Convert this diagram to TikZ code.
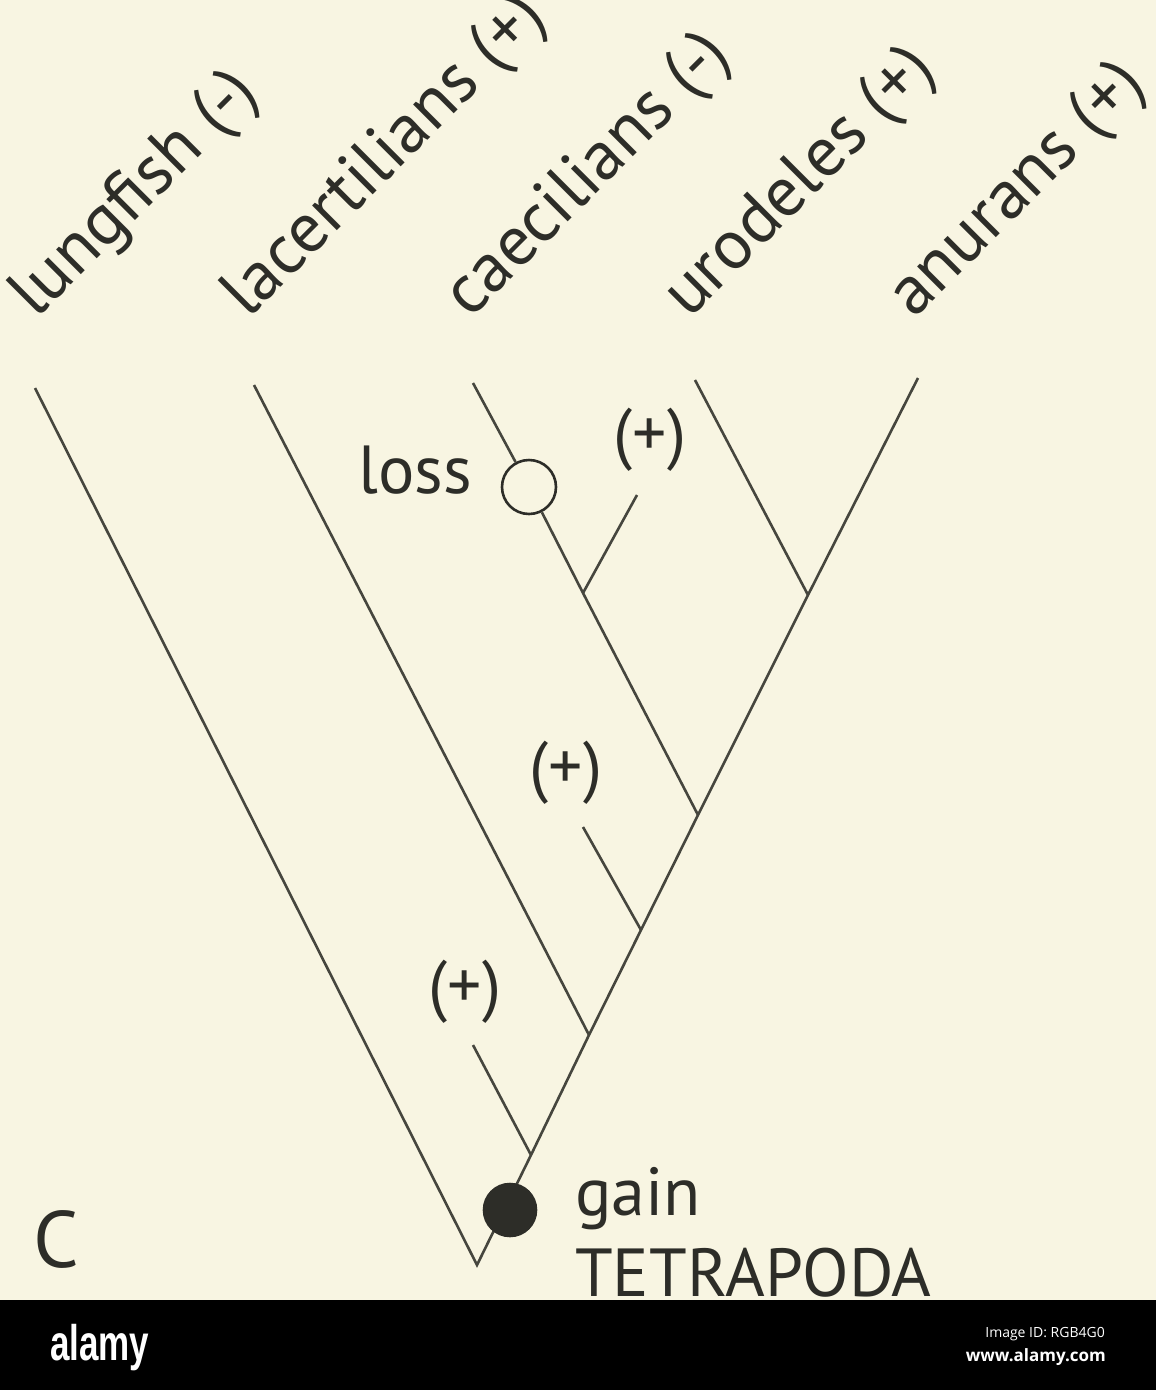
\documentclass[tikz,border=0pt]{standalone}
\usepackage{fontspec}
\setmainfont{PT Sans}
\newfontfamily\stockfont{Liberation Sans}
\newfontfamily\idfont{Open Sans}

\definecolor{paper}{RGB}{248,245,226}
\definecolor{ink}{RGB}{45,45,40}
\definecolor{inkline}{RGB}{70,70,62}
\newcommand{\taxfont}{\fontsize{70}{80}\selectfont}
\newcommand{\statefont}{\fontsize{68}{80}\selectfont}

\begin{document}
\begin{tikzpicture}[x=1pt,y=-1pt]
    \tikzstyle{branch}=[draw=inkline, line width=2.6pt];
    \tikzstyle{taxon}=[anchor=base west, rotate=45, inner sep=0pt, text=ink, font=\taxfont];
    \tikzstyle{state}=[inner sep=0pt, text=ink, font=\statefont];
    \tikzstyle{trait}=[circle, draw=ink, line width=2.6pt, minimum size=54pt, inner sep=0pt];
    \useasboundingbox (0,0) rectangle (1156,1390);
    \fill[paper] (0,0) rectangle (1156,1300);

    % taxon names
    \foreach \nm/\px/\txt in {lung/36/lungfish (-), lac/248/lacertilians (+),
        cae/470/caecilians (-), uro/689/urodeles (+), anu/914/anurans (+)} {
      \node[taxon] (lbl\nm) at (\px,320) {\txt};
    }

    % tips and forks
    \coordinate (tipLung) at (35,388);
    \coordinate (tipLac) at (254,385);
    \coordinate (tipCae) at (473,383);
    \coordinate (tipUro) at (695,380);
    \coordinate (tipAnu) at (918,378);
    \coordinate (root) at (477,1265);
    \coordinate (fork1) at (531,1155);
    \coordinate (fork2) at (589,1035);
    \coordinate (fork3) at (641,930);
    \coordinate (fork4) at (698,815);
    \coordinate (fork5) at (808,595);
    \coordinate (fork6) at (583,593);
    \coordinate (tick1) at (473,1045);
    \coordinate (tick2) at (583,827);
    \coordinate (tick3) at (637,495);

    \node[trait, fill=paper] (loss) at (529,487) {};

    \draw[branch] (tipLung) -- (root) -- (fork1) -- (fork2) -- (fork3) -- (fork4) -- (fork5) -- (tipAnu);
    \draw[branch] (tipLac) -- (fork2);
    \draw[branch] (tipUro) -- (fork5);
    \draw[branch] (tipCae) -- (loss) -- (fork6) -- (fork4);
    \foreach \i/\j in {1/1, 2/3, 3/6} {
      \draw[branch] (tick\i) -- (fork\j);
    }

    \node[trait, fill=ink, minimum size=52pt] (gain) at (510,1210) {};

    % state labels
    \node[state, anchor=base east] (lblLoss) at (472,493) {loss};
    \node[state] (plus1) at (465,992) {(+)};
    \node[state] (plus2) at (566,773) {(+)};
    \node[state] (plus3) at (650,440) {(+)};
    \node[state, anchor=base west] (lblGain) at (575,1215) {gain};
    \node[state, anchor=base west] (lblClade) at (575,1296) {TETRAPODA};
    \node[state, anchor=base west, font=\fontsize{80}{90}\selectfont] (panel) at (33,1267) {C};

    % stock bar
    \fill[black] (0,1300) rectangle (1156,1390);
    \node[anchor=base west, inner sep=0pt, text=white, xscale=0.7,
      font=\stockfont\bfseries\fontsize{50}{52}\selectfont] (logo) at (50,1360) {alamy};
    \node[anchor=base east, inner sep=0pt, text=white,
      font=\idfont\fontsize{14}{16}\selectfont] (imgId) at (1105,1337) {Image ID: RGB4G0};
    \node[anchor=base east, inner sep=0pt, text=white,
      font=\idfont\bfseries\fontsize{17}{20}\selectfont] (site) at (1106,1361) {www.alamy.com};
\end{tikzpicture}
\end{document}
